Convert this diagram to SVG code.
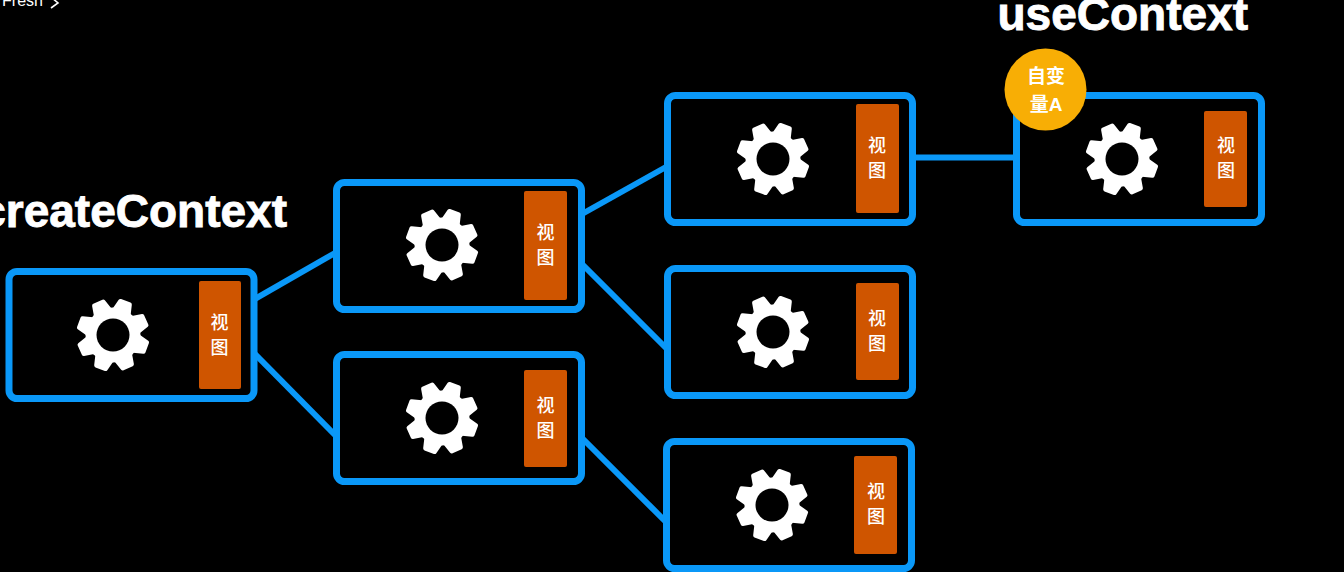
<svg xmlns="http://www.w3.org/2000/svg" xmlns:xlink="http://www.w3.org/1999/xlink" width="1344" height="572" viewBox="0 0 1344 572">
<style>
.box{fill:#000;stroke:#0A98F8;stroke-width:7}
.view{fill:#CF5500}
.conn{stroke:#0A98F8;stroke-width:6;fill:none}
.vt{font-family:"Noto Sans CJK SC",sans-serif;font-size:18px;font-weight:500;fill:#fff;text-anchor:middle}
.title{font-family:"Liberation Sans",Arial,sans-serif;font-size:46px;font-weight:700;fill:#fff;stroke:#fff;stroke-width:.9}
.var{font-family:"Liberation Sans","Noto Sans CJK SC",sans-serif;font-size:19px;font-weight:700;fill:#fff;text-anchor:middle}
</style>
<defs>
<g id="tooth"><path d="M-9.500 -25 L-7 -35 Q-6.500 -36.500 -5 -36.500 L5 -36.500 Q6.500 -36.500 7 -35 L9.500 -25 Z" fill="#fff"/></g>
<g id="gear">
<circle r="27.500" fill="#fff"/>
<use href="#tooth" transform="rotate(20.5)"/><use href="#tooth" transform="rotate(65.5)"/><use href="#tooth" transform="rotate(110.5)"/><use href="#tooth" transform="rotate(155.5)"/><use href="#tooth" transform="rotate(200.5)"/><use href="#tooth" transform="rotate(245.5)"/><use href="#tooth" transform="rotate(290.5)"/><use href="#tooth" transform="rotate(335.5)"/>
<circle r="16.500" fill="#000"/>
</g>
</defs>
<rect width="1344" height="572" fill="#000"/>
<text x="43" y="6" font-family="'Liberation Sans',Arial,sans-serif" font-size="16" fill="#fff" text-anchor="end">Fresh</text>
<path d="M51 -3 L58 3 L51 8" fill="none" stroke="#fff" stroke-width="1.6"/>
<text id="label-create" class="title" x="287" y="227" text-anchor="end">createContext</text>
<text id="label-use" class="title" x="1248" y="30" text-anchor="end">useContext</text>
<g id="connectors">
<line class="conn" x1="255" y1="299" x2="335" y2="253"/>
<line class="conn" x1="255" y1="354" x2="335" y2="435"/>
<line class="conn" x1="582" y1="214" x2="666" y2="167"/>
<line class="conn" x1="582" y1="264" x2="666" y2="348"/>
<line class="conn" x1="582" y1="438" x2="666" y2="522"/>
<line class="conn" x1="914" y1="157.500" x2="1015" y2="157.500"/>
</g>
<g id="node1"><rect class="box" x="9" y="271.500" width="245" height="127" rx="8"/><use href="#gear" x="113" y="335"/><rect class="view" x="199" y="281" width="42" height="108" rx="2"/><text class="vt" x="219.500" y="329">视</text><text class="vt" x="219.500" y="354">图</text></g>
<g id="node2"><rect class="box" x="336.500" y="182.500" width="245" height="127" rx="8"/><use href="#gear" x="442" y="245"/><rect class="view" x="524" y="191" width="43" height="109" rx="2"/><text class="vt" x="545.500" y="239">视</text><text class="vt" x="545.500" y="264">图</text></g>
<g id="node3"><rect class="box" x="336.500" y="354.500" width="245" height="127" rx="8"/><use href="#gear" x="442" y="418"/><rect class="view" x="524" y="370" width="43" height="97" rx="2"/><text class="vt" x="545.500" y="412">视</text><text class="vt" x="545.500" y="437">图</text></g>
<g id="node4"><rect class="box" x="667.500" y="95.500" width="245" height="127" rx="8"/><use href="#gear" x="773" y="159"/><rect class="view" x="856" y="104" width="43" height="109" rx="2"/><text class="vt" x="877" y="152">视</text><text class="vt" x="877" y="177">图</text></g>
<g id="node5"><rect class="box" x="667.500" y="268.500" width="245" height="127" rx="8"/><use href="#gear" x="773" y="332"/><rect class="view" x="856" y="283" width="43" height="97" rx="2"/><text class="vt" x="877" y="325">视</text><text class="vt" x="877" y="350">图</text></g>
<g id="node6"><rect class="box" x="666.500" y="441.500" width="245" height="127" rx="8"/><use href="#gear" x="772" y="505"/><rect class="view" x="854" y="456" width="43" height="98" rx="2"/><text class="vt" x="876" y="498">视</text><text class="vt" x="876" y="523">图</text></g>
<g id="node7"><rect class="box" x="1016.500" y="95.500" width="245" height="127" rx="8"/><use href="#gear" x="1122" y="159"/><rect class="view" x="1204" y="111" width="43" height="96" rx="2"/><text class="vt" x="1226" y="152">视</text><text class="vt" x="1226" y="177">图</text></g>
<g id="var-a"><circle cx="1045.500" cy="89.500" r="41" fill="#F8AE05"/>
<text class="var" x="1046" y="83">自变</text>
<text class="var" x="1046" y="111">量A</text></g>
</svg>
